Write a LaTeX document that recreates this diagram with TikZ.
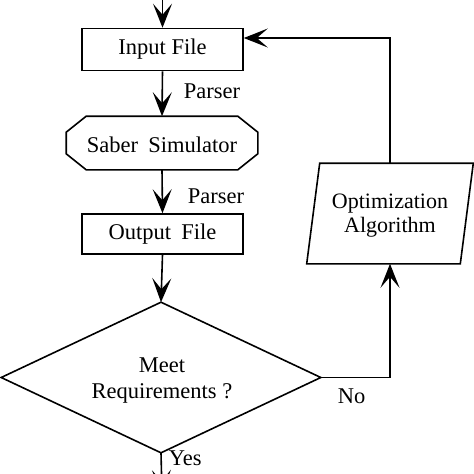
\documentclass[tikz,border=0pt]{standalone}
\usepackage{fontspec}
\setmainfont{Liberation Serif}
\usetikzlibrary{arrows.meta}
\begin{document}
\begin{tikzpicture}[x=1pt,y=-1pt, line width=1.6pt,
  txt/.style={font=\fontsize{22.5}{26}\selectfont, inner sep=0, align=center},
  box/.style={draw, minimum width=161, minimum height=42, inner sep=0, font=\fontsize{22.5}{26}\selectfont},
  ghost/.style={inner sep=0},
  arr/.style={-{Stealth[length=24pt,width=19pt,inset=11pt]}}]
\useasboundingbox[fill=white] (0,0) rectangle (474,474);
\coordinate (start) at (162.5,-5);
\coordinate (yesend) at (162,494);
\node[box] (in) at (162.5,49.5) {Input File};
\node[ghost, minimum width=190, minimum height=52] (sab) at (162,143) {};
\node[txt] (sabt) at (162,145) {Saber\hspace{0.45em}Simulator};
\draw ([xshift=20pt]sab.north west) -- ([xshift=-20pt]sab.north east)
  -- ([yshift=-16pt]sab.north east) -- ([yshift=16pt]sab.south east)
  -- ([xshift=-20pt]sab.south east) -- ([xshift=20pt]sab.south west)
  -- ([yshift=16pt]sab.south west) -- ([yshift=-16pt]sab.north west) -- cycle;
\node[box, minimum height=40] (out) at (162.5,234) {Output\hspace{0.45em}File};
\node[ghost, minimum width=318, minimum height=149] (dia) at (161,377.5) {};
\draw (dia.north) -- (dia.east) -- (dia.south) -- (dia.west) -- cycle;
\node[txt] (diat) at (162,381) {Meet\\Requirements ?};
\node[ghost, minimum width=152, minimum height=99] (opt) at (390,213.5) {};
\draw ([xshift=6.5pt]opt.north west) -- ([xshift=6.5pt]opt.north east)
  -- ([xshift=-6.5pt]opt.south east) -- ([xshift=-6.5pt]opt.south west) -- cycle;
\node[txt, font=\fontsize{22}{24}\selectfont] (optt) at (390,216) {Optimization\\Algorithm};
\node[txt, anchor=west] (p1) at (183,91) {Parser};
\node[txt, anchor=west] (p2) at (187,196) {Parser};
\node[txt, anchor=west] (no) at (337,396) {No};
\node[txt, anchor=base west] (yes) at (168,465) {Yes};
\draw[arr] (start) -- (in.north);
\draw[arr] (in.south) -- (sab.north);
\draw[arr] (sab.south) -- (out.north);
\draw[arr] (out.south) -- (dia.north);
\draw[arr] (dia.east) -| (opt.south);
\draw[arr] (opt.north) |- ([yshift=11.5pt]in.east);
\draw[arr] (dia.south) -- (yesend);
\end{tikzpicture}
\end{document}
